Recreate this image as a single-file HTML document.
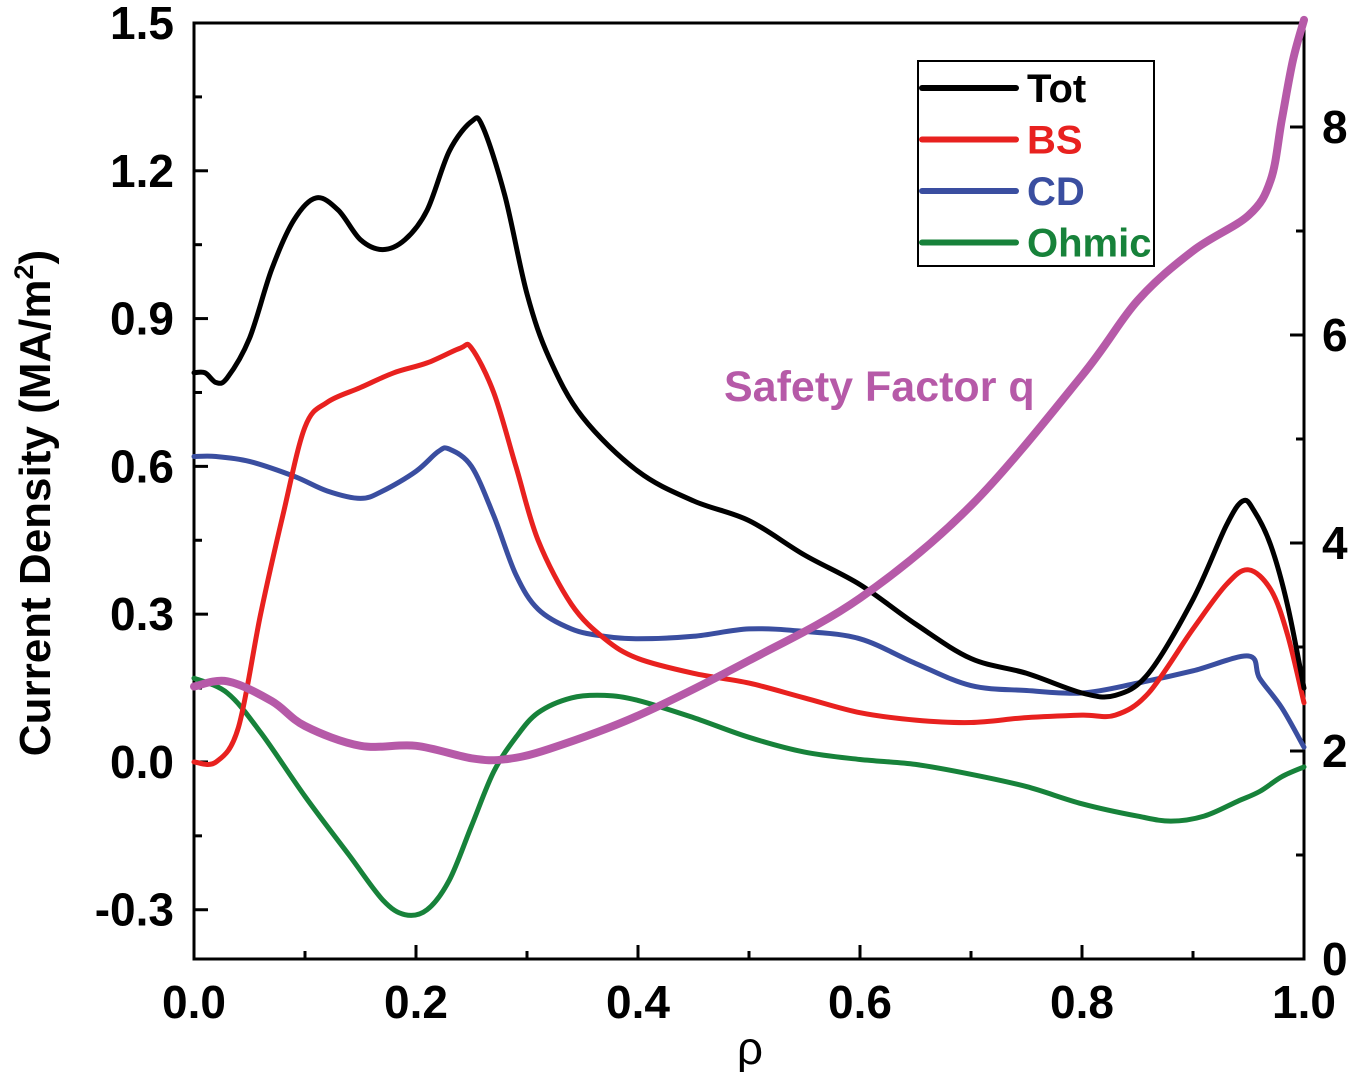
<!DOCTYPE html>
<html><head><meta charset="utf-8"><style>
html,body{margin:0;padding:0;background:#fff;}
svg{display:block;font-family:"Liberation Sans",sans-serif;font-weight:bold;}
</style></head><body>
<svg id="chart" width="1354" height="1072" viewBox="0 0 1354 1072" xmlns="http://www.w3.org/2000/svg"></svg>
<script>
const totX = [0,0.01,0.02,0.03,0.05,0.07,0.09,0.11,0.13,0.15,0.17,0.19,0.21,0.23,0.25,0.26,0.28,0.30,0.32,0.35,0.40,0.45,0.50,0.55,0.60,0.65,0.70,0.75,0.80,0.83,0.86,0.90,0.93,0.945,0.955,0.97,0.985,1.0];
const totY = [0.79,0.79,0.77,0.78,0.86,1.0,1.1,1.145,1.12,1.06,1.04,1.06,1.12,1.24,1.30,1.29,1.15,0.95,0.82,0.70,0.59,0.53,0.49,0.42,0.36,0.28,0.21,0.18,0.14,0.135,0.18,0.33,0.48,0.53,0.51,0.44,0.32,0.15];
const bsX = [0,0.02,0.04,0.06,0.08,0.10,0.12,0.15,0.18,0.21,0.24,0.25,0.27,0.29,0.31,0.34,0.37,0.40,0.45,0.50,0.55,0.60,0.65,0.70,0.75,0.80,0.83,0.86,0.90,0.93,0.95,0.97,0.985,1.0];
const bsY = [0,0,0.07,0.3,0.5,0.68,0.73,0.76,0.79,0.81,0.84,0.84,0.75,0.6,0.45,0.32,0.25,0.21,0.18,0.16,0.13,0.10,0.085,0.08,0.09,0.095,0.095,0.14,0.27,0.36,0.39,0.35,0.26,0.12];
const cdX = [0,0.02,0.05,0.09,0.12,0.15,0.17,0.20,0.22,0.23,0.25,0.27,0.29,0.31,0.34,0.37,0.40,0.45,0.50,0.55,0.60,0.65,0.70,0.75,0.80,0.85,0.90,0.95,0.96,0.98,1.0];
const cdY = [0.62,0.62,0.61,0.58,0.55,0.535,0.55,0.59,0.63,0.635,0.6,0.5,0.38,0.31,0.27,0.255,0.25,0.255,0.27,0.265,0.25,0.2,0.155,0.145,0.14,0.16,0.185,0.215,0.17,0.11,0.03];
const ohX = [0,0.03,0.06,0.10,0.14,0.17,0.19,0.21,0.23,0.25,0.27,0.29,0.31,0.34,0.37,0.40,0.45,0.50,0.55,0.60,0.65,0.70,0.75,0.80,0.85,0.88,0.91,0.94,0.96,0.98,1.0];
const ohY = [0.17,0.14,0.06,-0.07,-0.19,-0.28,-0.31,-0.3,-0.24,-0.13,-0.02,0.05,0.1,0.13,0.135,0.125,0.09,0.05,0.02,0.005,-0.005,-0.025,-0.05,-0.085,-0.11,-0.12,-0.11,-0.08,-0.06,-0.03,-0.01];
const qX = [0,0.03,0.07,0.10,0.15,0.20,0.25,0.28,0.32,0.40,0.50,0.60,0.70,0.80,0.85,0.90,0.95,0.97,0.98,0.99,1.0];
const qY = [2.62,2.67,2.48,2.24,2.05,2.05,1.93,1.92,2.02,2.34,2.87,3.47,4.36,5.61,6.33,6.81,7.15,7.49,8.07,8.64,9.03];
const xTicks = [0,0.2,0.4,0.6,0.8,1.0];
const xTickLabels = ["0.0","0.2","0.4","0.6","0.8","1.0"];
const yTicks = [-0.3,0,0.3,0.6,0.9,1.2,1.5];
const yTickLabels = ["-0.3","0.0","0.3","0.6","0.9","1.2","1.5"];
const y2Ticks = [0,2,4,6,8];
const y2TickLabels = ["0","2","4","6","8"];

const NS="http://www.w3.org/2000/svg";
const svg=document.getElementById('chart');
const L=194,R=1304,T=23,B=959;
const xs=v=>L+v*(R-L);
const ys=v=>B-(v+0.4)/1.9*(B-T);
const y2s=v=>B-v/9*(B-T);
function mk(tag,attrs){const e=document.createElementNS(NS,tag);for(const k in attrs)e.setAttribute(k,attrs[k]);svg.appendChild(e);return e;}
function smooth(pts){let d=`M${pts[0][0]},${pts[0][1]}`;for(let i=0;i<pts.length-1;i++){const p0=pts[Math.max(i-1,0)],p1=pts[i],p2=pts[i+1],p3=pts[Math.min(i+2,pts.length-1)];const c1=[p1[0]+(p2[0]-p0[0])/6,p1[1]+(p2[1]-p0[1])/6];const c2=[p2[0]-(p3[0]-p1[0])/6,p2[1]-(p3[1]-p1[1])/6];d+=` C${c1[0].toFixed(1)},${c1[1].toFixed(1)} ${c2[0].toFixed(1)},${c2[1].toFixed(1)} ${p2[0].toFixed(1)},${p2[1].toFixed(1)}`;}return d;}

const frame=mk('rect',{x:L,y:T,width:R-L,height:B-T,fill:'none',stroke:'#000','stroke-width':3});


for(let v=0;v<=1.0001;v+=0.1){const major=Math.abs(v*5-Math.round(v*5))<1e-6;const t=mk('line',{x1:xs(v),x2:xs(v),y1:B,y2:B-(major?14:8),stroke:'#000','stroke-width':3});

}
xTicks.forEach((v,i)=>{const t=mk('text',{x:xs(v),y:1018,'text-anchor':'middle','font-size':46});t.textContent=xTickLabels[i];

});
for(let k=-2;k<=10;k++){const v=k*0.15;const major=k%2===0;const t=mk('line',{x1:L,x2:L+(major?14:8),y1:ys(v),y2:ys(v),stroke:'#000','stroke-width':3});

}
yTicks.forEach((v,i)=>{const t=mk('text',{x:174,y:ys(v)+16,'text-anchor':'end','font-size':46});t.textContent=yTickLabels[i];

});
for(let k=0;k<=9;k++){const major=k%2===0;const t=mk('line',{x1:R,x2:R-(major?14:8),y1:y2s(k),y2:y2s(k),stroke:'#000','stroke-width':3});

}
y2Ticks.forEach((v,i)=>{const t=mk('text',{x:1322,y:y2s(v)+16,'font-size':46});t.textContent=y2TickLabels[i];

});
const xt=mk('text',{x:750,y:1064,'text-anchor':'middle','font-size':46,'font-weight':'normal'});xt.textContent='ρ';


const yt=mk('text',{x:0,y:0,'text-anchor':'middle','font-size':44,transform:'translate(50,503) rotate(-90)'});
yt.innerHTML='Current Density (MA/m<tspan dy="-17" font-size="27">2</tspan><tspan dy="17">)</tspan>';



function series(X,Y,scale,color,w,name){const pts=X.map((x,i)=>[xs(x),scale(Y[i])]);const p=mk('path',{d:smooth(pts),fill:'none',stroke:color,'stroke-width':w,'stroke-linejoin':'round','stroke-linecap':'round'});

}
series(ohX,ohY,ys,'#17823a',5,'ohmic-line');
series(cdX,cdY,ys,'#3a4ea0',5,'cd-line');
series(bsX,bsY,ys,'#e8211f',5,'bs-line');
series(totX,totY,ys,'#000',5,'tot-line');
series(qX,qY,y2s,'#b65aa8',8,'safety-factor-line');

const ql=mk('text',{x:724,y:401,'font-size':43,fill:'#b65aa8'});ql.textContent='Safety Factor q';



const lg=mk('rect',{x:918,y:61,width:236,height:205,fill:'#fff',stroke:'#000','stroke-width':2});


const legNames=['Tot','BS','CD','Ohmic'];
const legColors=['#000','#e8211f','#3a4ea0','#17823a'];
legNames.forEach((n,i)=>{const y=88+i*51.5;const l=mk('line',{x1:922,x2:1016,y1:y,y2:y,stroke:legColors[i],'stroke-width':6,'stroke-linecap':'round'});


const t=mk('text',{x:1027,y:y+14,'font-size':40,fill:legColors[i]});t.textContent=n;

});
</script>
</body></html>
